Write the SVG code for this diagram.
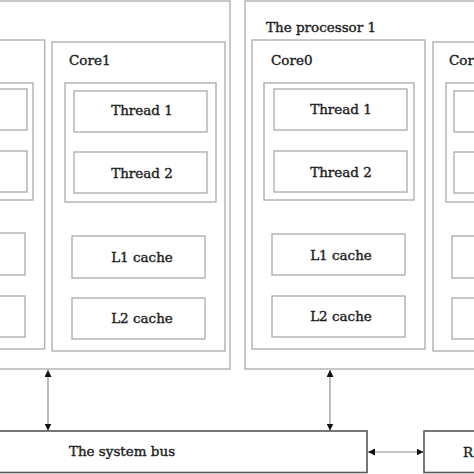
<svg xmlns="http://www.w3.org/2000/svg" width="474" height="474" viewBox="0 0 474 474">
<defs>
<style>
.b{fill:#fff;stroke:#aaa;stroke-width:1.3}
.bus{fill:#fff;stroke:#555;stroke-width:1.6}
.t{font-family:"DejaVu Serif","Liberation Serif",serif;font-size:13.5px;fill:#1e1e1e;stroke:#1e1e1e;stroke-width:0.4}
.c{text-anchor:middle}
.ln{stroke:#888;stroke-width:1.1;fill:none}
</style>
<marker id="ah" viewBox="0 0 10 10" refX="10" refY="5" markerWidth="7" markerHeight="7" orient="auto-start-reverse" markerUnits="userSpaceOnUse">
<path d="M0,0L10,5L0,10z" fill="#111"/>
</marker>
</defs>
<rect width="474" height="474" fill="#fff"/>

<g id="processor0">
<rect class="b" x="-140" y="1" width="370" height="368"/>
<g id="p0-core0">
<rect class="b" x="-128" y="40" width="172.7" height="309"/>
<rect class="b" x="-118" y="83" width="151" height="117"/>
<rect class="b" x="-110" y="89" width="137" height="41"/>
<rect class="b" x="-110" y="151" width="137" height="41"/>
<rect class="b" x="-110" y="233" width="135" height="42"/>
<rect class="b" x="-110" y="296" width="135" height="41"/>
</g>
<g id="p0-core1">
<rect class="b" x="52" y="42" width="173" height="309"/>
<text class="t" x="69" y="65">Core1</text>
<rect class="b" x="65" y="83" width="151" height="119"/>
<rect class="b" x="74" y="91" width="133" height="41"/>
<text class="t c" x="142" y="115">Thread 1</text>
<rect class="b" x="74" y="152" width="133" height="41"/>
<text class="t c" x="142" y="178">Thread 2</text>
<rect class="b" x="72" y="236" width="133" height="42"/>
<text class="t c" x="142" y="262">L1 cache</text>
<rect class="b" x="72" y="298" width="133" height="41"/>
<text class="t c" x="142" y="323">L2 cache</text>
</g>
</g>

<g id="processor1">
<rect class="b" x="245" y="1" width="260" height="368"/>
<text class="t" x="266" y="32">The processor 1</text>
<g id="p1-core0">
<rect class="b" x="252" y="40" width="173" height="309"/>
<text class="t" x="271" y="65">Core0</text>
<rect class="b" x="264" y="83" width="150" height="117"/>
<rect class="b" x="274" y="89" width="133" height="41"/>
<text class="t c" x="341" y="114">Thread 1</text>
<rect class="b" x="274" y="151" width="133" height="41"/>
<text class="t c" x="341" y="177">Thread 2</text>
<rect class="b" x="272" y="234" width="133" height="41"/>
<text class="t c" x="341" y="260">L1 cache</text>
<rect class="b" x="272" y="296" width="133" height="41"/>
<text class="t c" x="341" y="321">L2 cache</text>
</g>
<g id="p1-core1">
<rect class="b" x="433" y="42" width="173" height="309"/>
<text class="t" x="449" y="65">Cor</text>
<rect class="b" x="446" y="83" width="151" height="119"/>
<rect class="b" x="454" y="91" width="133" height="41"/>
<rect class="b" x="454" y="152" width="133" height="41"/>
<rect class="b" x="452" y="236" width="133" height="42"/>
<rect class="b" x="452" y="298" width="133" height="41"/>
</g>
</g>

<g id="bus">
<rect class="bus" x="-10" y="431" width="377" height="41.5"/>
<text class="t c" x="122" y="456">The system bus</text>
</g>
<g id="ram">
<rect class="bus" x="424" y="431" width="120" height="41.5"/>
<text class="t" x="463" y="457">R</text>
</g>

<g id="connectors">
<line class="ln" x1="48" y1="370" x2="48" y2="430.5" marker-start="url(#ah)" marker-end="url(#ah)"/>
<line class="ln" x1="330" y1="370" x2="330" y2="430.5" marker-start="url(#ah)" marker-end="url(#ah)"/>
<line class="ln" x1="368" y1="452" x2="423.5" y2="452" marker-start="url(#ah)" marker-end="url(#ah)"/>
</g>
</svg>
